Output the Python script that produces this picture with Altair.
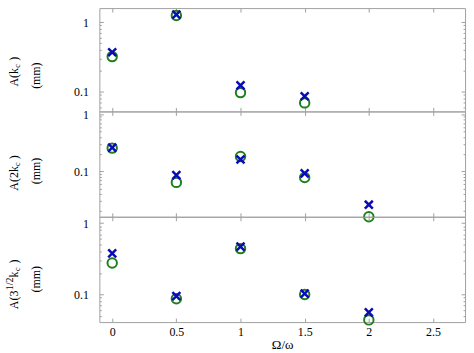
import altair as alt
import pandas as pd

# ---- data ----
omega = [0, 0.5, 1, 1.5, 2]
p1_circ = [0.32, 1.25, 0.097, 0.069]
p1_cross = [0.37, 1.29, 0.123, 0.086]
p2_circ = [0.255, 0.064, 0.182, 0.078, 0.016]
p2_cross = [0.26, 0.086, 0.161, 0.092, 0.026]
p3_circ = [0.276, 0.087, 0.44, 0.100, 0.044]
p3_cross = [0.378, 0.095, 0.47, 0.103, 0.056]

x_ticks = [0, 0.5, 1, 1.5, 2, 2.5]
y_major = [0.1, 1]
y_minor = [0.02, 0.03, 0.04, 0.05, 0.06, 0.07, 0.08, 0.09,
           0.2, 0.3, 0.4, 0.5, 0.6, 0.7, 0.8, 0.9]
x_title = "Ω/ω"

FONT = "Times New Roman, Liberation Serif, serif"
GREEN = "#1f7f1f"
BLUE = "#0b0bb5"
FRAME = "#a0a0a0"
CROSS = "M-1,-1L1,1M-1,1L1,-1"
one = pd.DataFrame({"a": [0]})


def piece(text, x, y, size, align="left"):
    return alt.Chart(one).mark_text(
        angle=270, align=align, baseline="middle", font=FONT,
        fontSize=size, color="black"
    ).encode(x=alt.value(x), y=alt.value(y), text=alt.value(text))


def panel(xs, circ, cross, domain, height, show_x, pieces):
    df = pd.DataFrame({"omega": xs, "circ": circ, "cross": cross})
    xscale = alt.Scale(domain=[-0.1, 2.75], nice=False, zero=False)
    yscale = alt.Scale(type="log", domain=domain, nice=False)
    minor = [v for v in y_minor if domain[0] <= v <= domain[1]]
    major = [v for v in y_major if domain[0] <= v <= domain[1]]

    if show_x:
        xb = alt.Axis(orient="bottom", values=x_ticks, tickSize=4, offset=-4,
                      domain=False, format="~g", labelPadding=4,
                      title=x_title, titlePadding=2, titleFontWeight="normal",
                      titleFont=FONT, titleFontSize=13, titleColor="black")
    else:
        xb = alt.Axis(orient="bottom", values=x_ticks, tickSize=4, offset=-4,
                      domain=False, labels=False, title=None)
    xt = alt.Axis(orient="top", values=x_ticks, tickSize=4, offset=-4,
                  domain=False, labels=False, title=None)
    yl = alt.Axis(orient="left", values=major, tickSize=4, offset=-4,
                  domain=False, format="~g", labelPadding=11, title=None)
    yr = alt.Axis(orient="right", values=major, tickSize=4, offset=-4,
                  domain=False, labels=False, title=None)
    yl_m = alt.Axis(orient="left", values=minor, tickSize=2, offset=-2,
                    domain=False, labels=False, title=None)
    yr_m = alt.Axis(orient="right", values=minor, tickSize=2, offset=-2,
                    domain=False, labels=False, title=None)

    base = alt.Chart(df)
    circles = base.mark_point(shape="circle", filled=False, size=90,
                              strokeWidth=2, color=GREEN, opacity=1).encode(
        x=alt.X("omega:Q", scale=xscale, axis=xb),
        y=alt.Y("circ:Q", scale=yscale, axis=yl),
    )
    crosses = base.mark_point(shape=CROSS, filled=False, size=64,
                              strokeWidth=2.5, color=BLUE, opacity=1).encode(
        x=alt.X("omega:Q", scale=xscale, axis=xt),
        y=alt.Y("cross:Q", scale=yscale, axis=yr),
    )
    minor_l = base.mark_point(opacity=0).encode(
        x=alt.X("omega:Q", scale=xscale, axis=None),
        y=alt.Y("circ:Q", scale=yscale, axis=yl_m),
    )
    minor_r = base.mark_point(opacity=0).encode(
        x=alt.X("omega:Q", scale=xscale, axis=None),
        y=alt.Y("cross:Q", scale=yscale, axis=yr_m),
    )
    layers = [circles, crosses, minor_l, minor_r] + pieces
    return alt.layer(*layers).resolve_axis(x="independent", y="independent").properties(
        width=368, height=height)


XL, XS, XSUP, XMM = -86, -82, -89.5, -64

pieces1 = [piece("A(k", XL, 79, 12), piece("c", XS, 60, 8), piece(")", XL, 53, 12),
           piece("(mm)", XMM, 68, 12, "center")]
pieces2 = [piece("A(2k", XL, 79.7, 12), piece("c", XS, 55, 8), piece(")", XL, 48, 12),
           piece("(mm)", XMM, 60, 12, "center")]
pieces3 = [piece("A(3", XL, 93, 12), piece("1/2", XSUP, 74, 10), piece("k", XL, 61, 12),
           piece("c", XS, 54.5, 8), piece(")", XL, 47, 12),
           piece("(mm)", XMM, 63, 12, "center")]

p1 = panel(omega[:4], p1_circ, p1_cross, [0.052, 1.6], 104, False, pieces1)
p2 = panel(omega, p2_circ, p2_cross, [0.016, 1.12], 106, False, pieces2)
p3 = panel(omega, p3_circ, p3_cross, [0.041, 1.23], 106, True, pieces3)

chart = alt.vconcat(p1, p2, p3, spacing=0, bounds="flush").properties(
    padding={"left": 5, "top": 4, "right": 8, "bottom": 4}
).configure_view(stroke=FRAME, strokeWidth=1).configure_axis(
    grid=False, tickColor=FRAME, tickWidth=1, labelFont=FONT, labelFontSize=12,
    labelColor="black"
)

chart.save("out.html", embed_options={"renderer": "svg", "actions": False})
